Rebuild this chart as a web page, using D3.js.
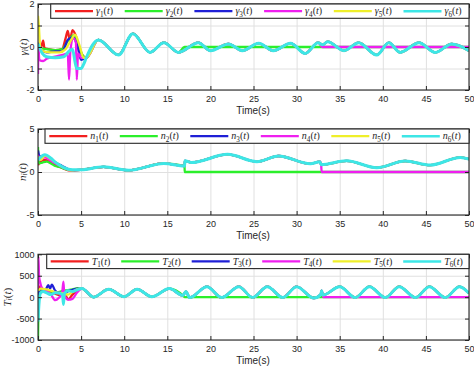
<!DOCTYPE html>
<html><head><meta charset="utf-8">
<script src="https://cdn.jsdelivr.net/npm/d3@7"></script>
<style>body{margin:0;background:#fff}svg{display:block}</style>
</head><body><svg id="c" width="474" height="366"></svg>
<script>
// ---------------- data ----------------
const timeTicks = [0,5,10,15,20,25,30,35,40,45,50];
const gammaTicks = [-2,-1,0,1,2];
const nTicks = [-5,0,5];
const TTicks = [-1000,-500,0,500,1000];
const agentIds = ["1","2","3","4","5","6"];

// gamma_i(t): early transients per agent
const gammaEarly = [
  [[0,0.05],[0.3,-0.1],[0.6,0.3],[0.75,-0.05],[1.2,-0.1],[2,-0.15],[2.8,-0.1],[3.2,0.4],[3.45,0.75],[3.7,0.3],[4.0,0.78],[4.4,0.5],[4.8,-0.1],[5.2,-0.4],[5.6,-0.5]],
  [[0,0.1],[0.3,-0.05],[1,-0.1],[2,-0.15],[2.8,-0.1],[3.5,0.3],[4.2,0.55],[4.7,0.1],[5.2,-0.4],[5.6,-0.5]],
  [[0,0.2],[0.4,-0.15],[1,-0.25],[2,-0.2],[2.8,-0.2],[3.5,0.35],[4.1,0.45],[4.6,0.0],[5.0,-0.6],[5.3,-0.55],[5.6,-0.5]],
  [[0,-1.25],[0.05,0.0],[0.15,-0.6],[0.6,-0.65],[1,-0.55],[2,-0.45],[3,-0.35],[3.45,-0.3],[3.6,-1.52],[3.75,-0.2],[4.1,0.4],[4.4,0.2],[4.5,-1.52],[4.65,-0.3],[5.0,-0.5],[5.6,-0.5]],
  [[0,1.45],[0.1,1.0],[0.25,0.0],[0.6,-0.2],[1.5,-0.25],[2.5,-0.25],[3.2,-0.1],[3.8,0.3],[4.3,0.57],[4.8,0.1],[5.3,-0.5],[5.6,-0.5]],
  [[0,0.15],[0.5,-0.3],[1,-0.45],[2,-0.5],[3,-0.45],[3.6,-0.2],[4.0,-0.1],[4.3,-0.7],[4.5,-1.0],[5.0,-1.0],[5.3,-0.8],[5.6,-0.5]]
];
const gammaConsensus = [[5.6,-0.5],[7.0,0.33],[9.35,-0.37],[11.0,0.62],[13.0,-0.25],[14.6,0.2],[16.3,-0.25],[18.6,0.2],[20.0,-0.17],[22.1,0.14],[23.7,-0.17],[25.6,0.17],[27.3,-0.17],[29.3,0.17],[31.0,-0.3],[32.5,0.2],[33.0,0.1],[33.6,0.25],[35.5,-0.17],[37.2,0.2],[39.3,-0.37],[40.7,0.2],[42.0,-0.25],[44.2,0.2],[46.1,-0.25],[48.0,0.14],[50,-0.17]];
const gammaDrop = [null,17,null,33,null,null];

// n_i(t)
const nEarly = [
  [[0,0.8],[0.3,1.2],[0.8,1.4],[1.5,1.1],[2,0.8],[2.5,0.6],[3,0.4],[3.5,0.2],[4,0.2],[5,0.25]],
  [[0,2.9],[0.1,1.0],[0.5,1.1],[1,1.2],[1.5,1.0],[2,0.7],[2.5,0.6],[3,0.4],[4,0.2],[5,0.25]],
  [[0,2.5],[0.2,1.8],[0.8,1.8],[1.5,1.5],[2,1.1],[2.8,0.7],[3.5,0.35],[4.2,0.2],[5,0.25]],
  [[0,2.0],[0.2,1.4],[0.8,1.7],[1.5,1.3],[2.2,0.9],[3,0.5],[4,0.2],[5,0.25]],
  [[0,1.8],[0.3,1.4],[0.8,1.9],[1.5,1.5],[2.2,1.0],[3,0.5],[4,0.2],[5,0.25]],
  [[0,1.4],[0.8,2.0],[1.5,1.6],[2,1.15],[2.5,0.8],[3,0.5],[4,0.25],[5,0.25]]
];
const nConsensus = [[5,0.25],[7.6,0.6],[10.5,0.2],[14.6,1.0],[17.0,0.7],[17.05,1.3],[17.8,1.1],[22.0,2.05],[25.4,1.2],[27.9,1.86],[31.6,0.95],[32.7,1.2],[32.85,0.85],[35.8,1.3],[39.3,0.5],[42.6,1.28],[45.5,0.8],[49.0,1.7],[50,1.5]];
const nDrop = [null,17.02,null,32.9,null,null];

// T_i(t)
const TEarly = [
  [[0,100],[0.2,250],[0.5,200],[1,150],[1.5,120],[2,80],[2.5,50],[3,100],[3.5,-50],[4,60],[4.5,150],[5.1,200]],
  [[0,-1000],[0.05,-300],[0.2,100],[0.5,150],[1,120],[2,100],[3,150],[4,180],[4.6,210],[5.1,200]],
  [[0,50],[0.3,200],[0.8,150],[1.2,280],[1.4,200],[1.6,290],[2,150],[2.5,100],[3,80],[3.5,140],[4,170],[4.6,200],[5.1,200]],
  [[0,200],[0.05,950],[0.12,500],[0.25,350],[0.5,200],[1,150],[1.5,60],[2,-70],[2.4,-20],[2.8,100],[2.95,360],[3.05,50],[3.5,-60],[4,-40],[4.5,100],[5.1,200]],
  [[0,150],[0.3,200],[1,180],[2,120],[3,80],[3.5,60],[4,120],[4.8,200],[5.1,200]],
  [[0,-570],[0.1,-200],[0.3,100],[0.6,130],[1,100],[1.5,60],[2,100],[2.5,90],[2.85,60],[2.95,-170],[3.05,80],[3.5,150],[4,130],[4.5,170],[5.1,200]]
];
const TConsensus = [[5.1,200],[6.45,0],[8.2,185],[10.0,10],[11.5,185],[13.2,10],[15.25,200],[16.8,40],[17.15,130],[17.6,-10],[19.6,245],[21.3,-10],[23.3,245],[24.9,-10],[26.6,245],[28.4,-10],[30.0,245],[32.0,-20],[32.8,60],[32.9,150],[33.05,50],[35.0,245],[36.8,-10],[38.45,245],[40.3,-10],[41.9,245],[43.8,-10],[45.4,245],[47.25,-10],[48.9,245],[50,90]];
const TDrop = [null,17.0,null,33.1,null,null];

// ---------------- style / layout ----------------
const colors = ["#f21f1f","#2bef2b","#1f1fd6","#ef1fef","#efef2a","#3de6e6"];
const X0 = 38, X1 = 469;
const panels = [
  {letter:"γ", early:gammaEarly, cons:gammaConsensus, drop:gammaDrop, ticks:gammaTicks, top:4, bottom:90,
   legX:50.7, entX:55, entStep:69.7, ylabX:22.5},
  {letter:"n", early:nEarly, cons:nConsensus, drop:nDrop, ticks:nTicks, top:129, bottom:215,
   legX:45, entX:49.3, entStep:70.5, ylabX:22},
  {letter:"T", early:TEarly, cons:TConsensus, drop:TDrop, ticks:TTicks, top:254.3, bottom:340,
   legX:46.7, entX:50.7, entStep:70.5, ylabX:7}
];

function buildSeries(early, cons, drop){
  const last = early[early.length-1][0];
  const pts = early.slice();
  for (const p of cons){ if (p[0] > last && (drop == null || p[0] < drop)) pts.push(p); }
  if (drop != null){ pts.push([drop,0]); pts.push([50,0]); }
  return pts;
}

function mathLabel(textSel, letter, sub, size){
  textSel.append("tspan").attr("font-style","italic").text(letter);
  textSel.append("tspan").attr("font-size", size*0.72).attr("dy", size*0.22)
    .attr("font-style", sub === "i" ? "italic" : "normal").text(sub);
  textSel.append("tspan").attr("dy", -size*0.22).text("(");
  textSel.append("tspan").attr("font-style","italic").text("t");
  textSel.append("tspan").text(")");
}

const svg = d3.select("#c");
const x = d3.scaleLinear().domain([0,50]).range([X0,X1]);

panels.forEach((P, pi) => {
  const y = d3.scaleLinear().domain([P.ticks[0], P.ticks[P.ticks.length-1]]).range([P.bottom, P.top]);
  const h = P.bottom - P.top;
  const g = svg.append("g");

  // grid
  g.append("g").attr("transform",`translate(0,${P.bottom})`)
    .call(d3.axisBottom(x).tickValues(timeTicks).tickSize(-h).tickFormat(""))
    .call(a => { a.select(".domain").remove(); a.selectAll("line").attr("stroke","#e0e0e0"); });
  g.append("g").attr("transform",`translate(${X0},0)`)
    .call(d3.axisLeft(y).tickValues(P.ticks).tickSize(-(X1-X0)).tickFormat(""))
    .call(a => { a.select(".domain").remove(); a.selectAll("line").attr("stroke","#e0e0e0"); });

  // clip
  const cid = "clip"+pi;
  svg.append("clipPath").attr("id",cid).append("rect")
    .attr("x",X0).attr("y",P.top).attr("width",X1-X0).attr("height",h);

  const line = d3.line().x(d => x(d[0])).y(d => y(d[1])).curve(d3.curveMonotoneX);
  const lg = g.append("g").attr("clip-path",`url(#${cid})`);
  agentIds.forEach((id, i) => {
    const pts = buildSeries(P.early[i], P.cons, P.drop[i]);
    lg.append("path").attr("d", line(pts)).attr("fill","none")
      .attr("stroke", colors[i]).attr("stroke-width", i === 5 ? 3 : 2.3)
      .attr("stroke-linejoin","round");
  });

  // axes ticks (inward) + labels
  const fmt = d => String(d);
  g.append("g").attr("transform",`translate(0,${P.bottom})`)
    .call(d3.axisBottom(x).tickValues(timeTicks).tickSize(-4).tickPadding(5.5).tickFormat(fmt))
    .call(a => { a.select(".domain").remove();
      a.selectAll("line").attr("stroke","#262626");
      a.selectAll("text").attr("font-family","Liberation Sans, Arial, sans-serif").attr("font-size",9).attr("fill","#262626"); });
  g.append("g").attr("transform",`translate(0,${P.top})`)
    .call(d3.axisTop(x).tickValues(timeTicks).tickSize(-4).tickFormat(""))
    .call(a => { a.select(".domain").remove(); a.selectAll("line").attr("stroke","#262626"); });
  g.append("g").attr("transform",`translate(${X0},0)`)
    .call(d3.axisLeft(y).tickValues(P.ticks).tickSize(-4).tickPadding(3.5).tickFormat(fmt))
    .call(a => { a.select(".domain").remove();
      a.selectAll("line").attr("stroke","#262626");
      a.selectAll("text").attr("font-family","Liberation Sans, Arial, sans-serif").attr("font-size",9).attr("fill","#262626"); });
  g.append("g").attr("transform",`translate(${X1},0)`)
    .call(d3.axisRight(y).tickValues(P.ticks).tickSize(-4).tickFormat(""))
    .call(a => { a.select(".domain").remove(); a.selectAll("line").attr("stroke","#262626"); });

  // box
  g.append("rect").attr("x",X0).attr("y",P.top).attr("width",X1-X0).attr("height",h)
    .attr("fill","none").attr("stroke","#262626").attr("stroke-width",1.1);

  // x label
  g.append("text").attr("x",253).attr("y",P.bottom+23.5).attr("text-anchor","middle")
    .attr("font-family","Liberation Sans, Arial, sans-serif").attr("font-size",10).attr("fill","#262626")
    .text("Time(s)");

  // y label
  const yl = g.append("text")
    .attr("transform",`translate(${P.ylabX},${(P.top+P.bottom)/2}) rotate(-90)`)
    .attr("text-anchor","middle").attr("dominant-baseline","central")
    .attr("font-family","Liberation Serif, Times New Roman, serif").attr("font-size",11).attr("fill","#262626");
  mathLabel(yl, P.letter, "i", 11);

  // legend
  const legH = 14.3;
  const leg = g.append("g");
  leg.append("rect").attr("x",P.legX).attr("y",P.top).attr("width",X1-P.legX).attr("height",legH)
    .attr("fill","#fff").attr("stroke","#262626").attr("stroke-width",1.1);
  agentIds.forEach((id, i) => {
    const ex = P.entX + i*P.entStep, ey = P.top + legH/2;
    leg.append("line").attr("x1",ex).attr("x2",ex+38).attr("y1",ey).attr("y2",ey)
      .attr("stroke",colors[i]).attr("stroke-width", i === 5 ? 2.5 : 2.2);
    const t = leg.append("text").attr("x",ex+41).attr("y",ey+3.3)
      .attr("font-family","Liberation Serif, Times New Roman, serif").attr("font-size",10).attr("fill","#262626");
    mathLabel(t, P.letter, id, 10);
  });
});
</script></body></html>
